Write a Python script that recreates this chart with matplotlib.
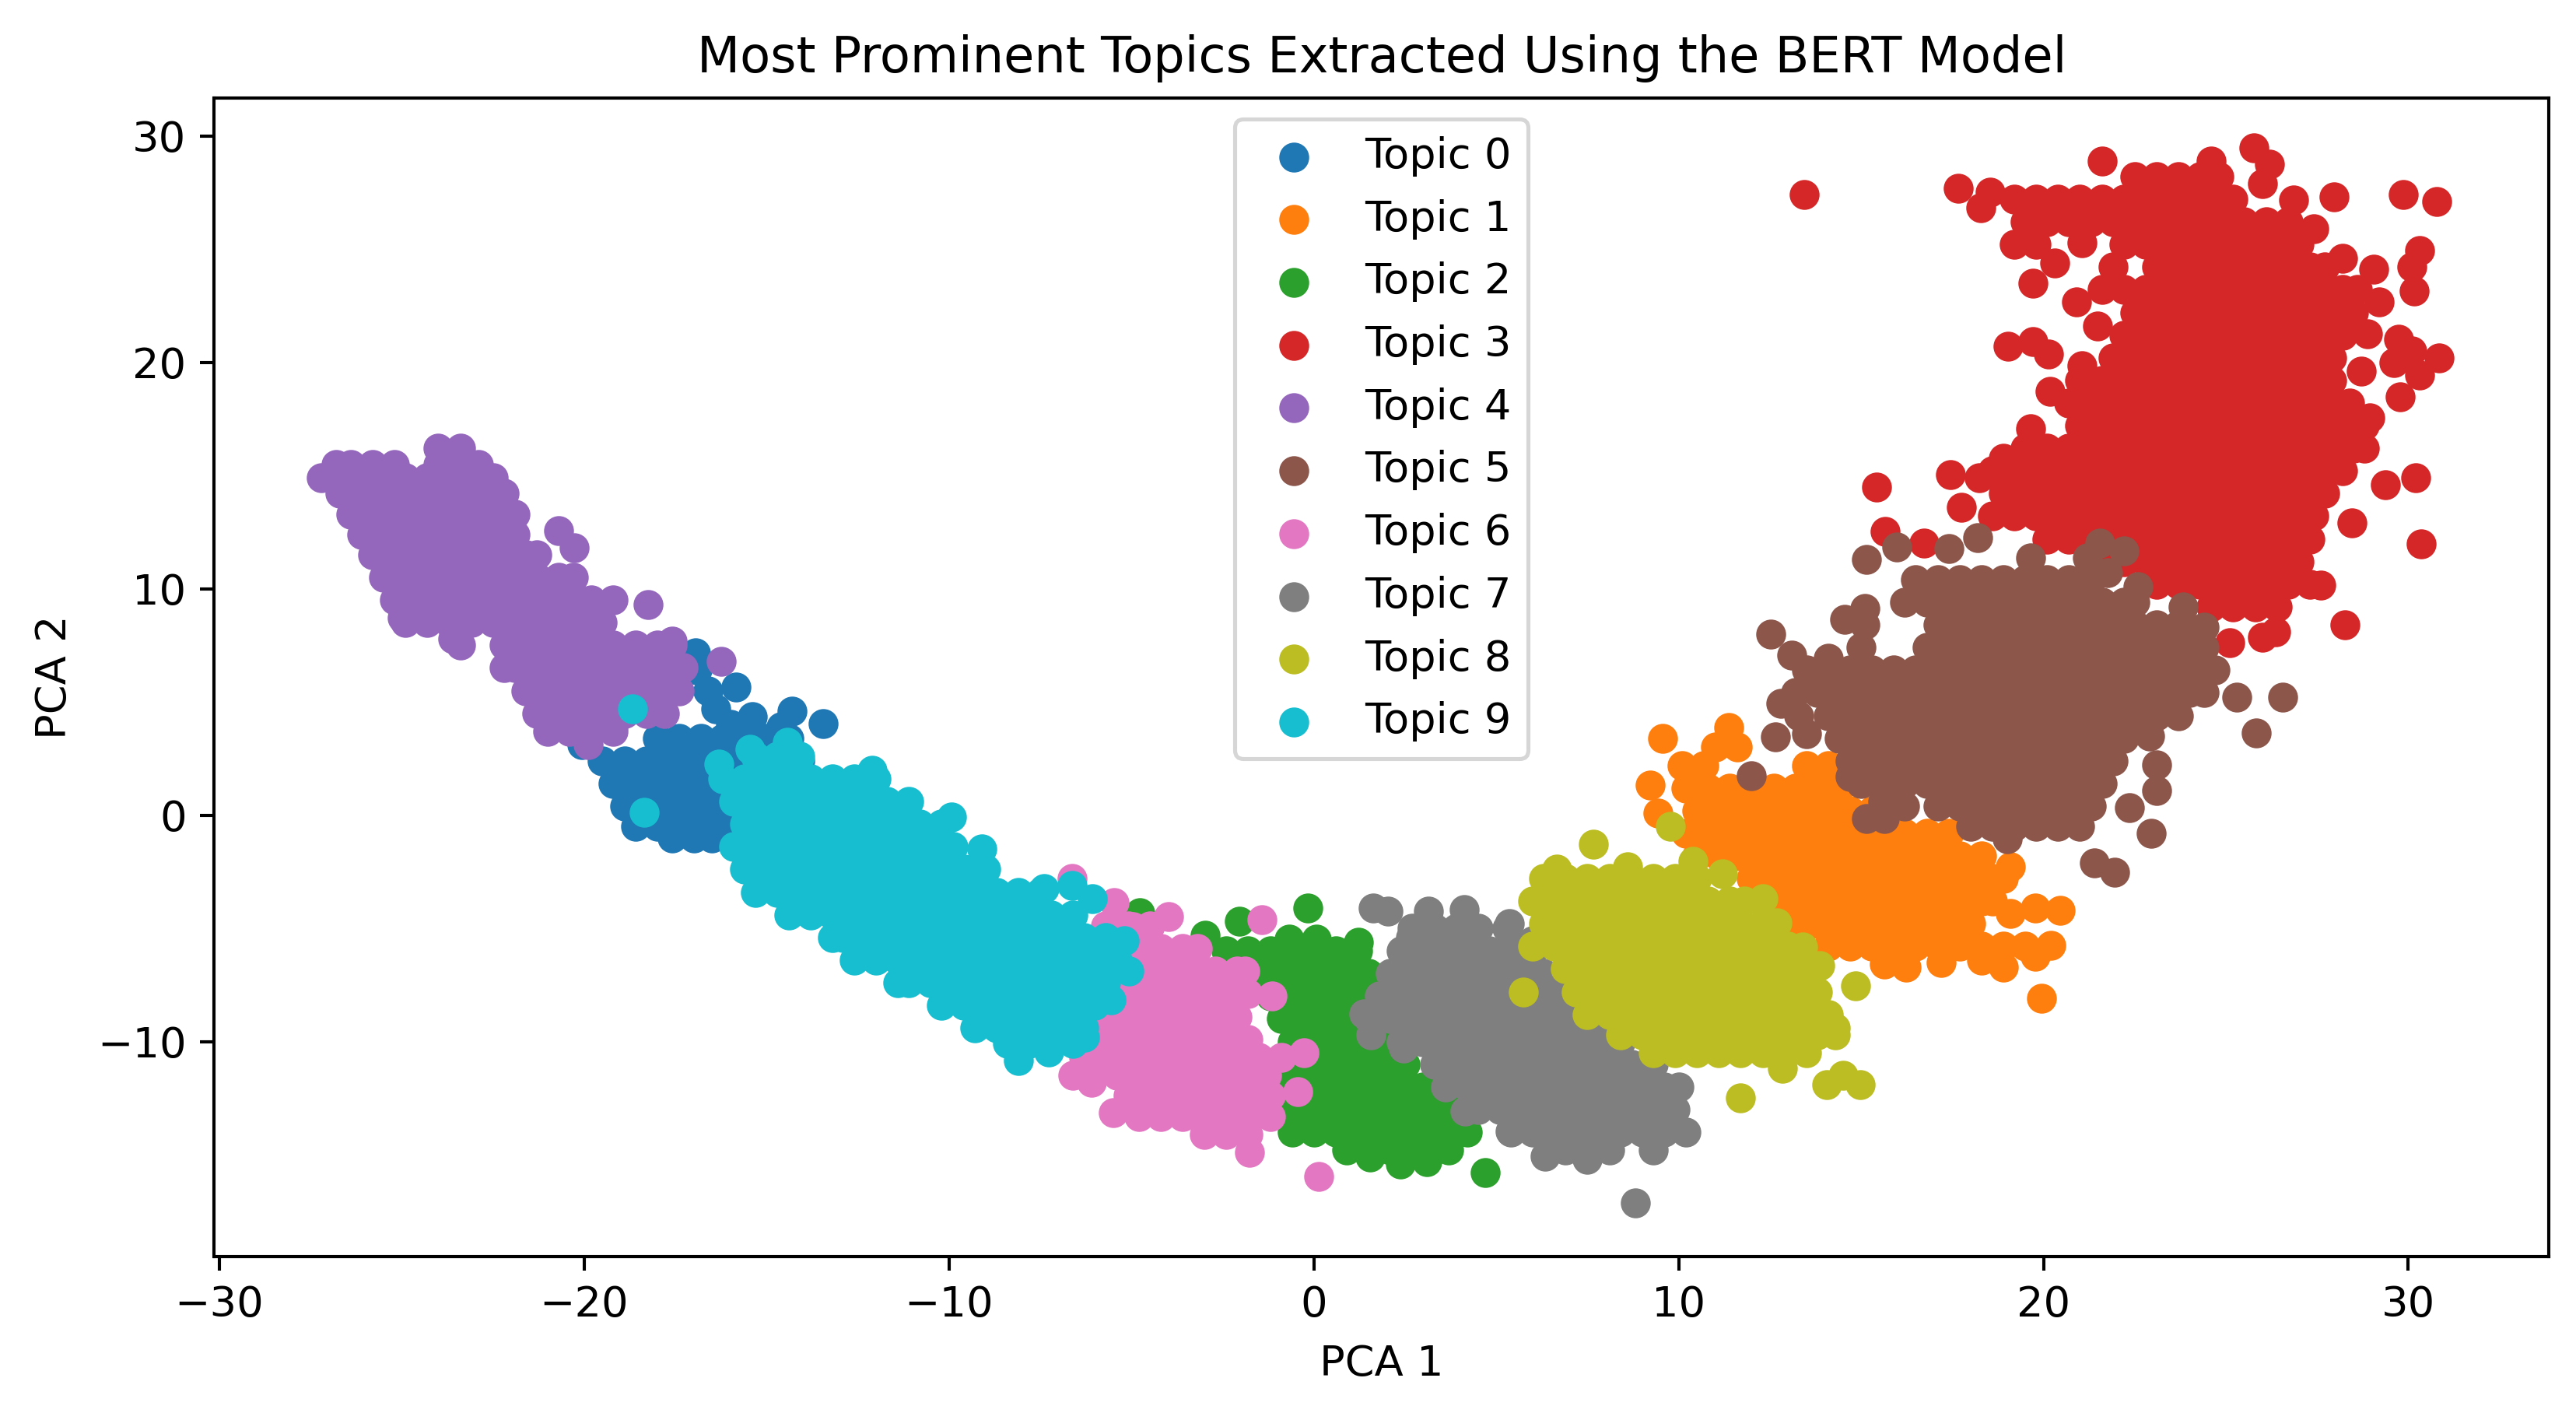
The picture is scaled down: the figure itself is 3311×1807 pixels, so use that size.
import matplotlib
matplotlib.use("Agg")
import matplotlib.pyplot as plt

# every row is y: [x, x, ...]; loose holds the stray dots
topic_0_rows = {
    3.4: [-18.0, -17.4, -16.8, -16.2, -15.6, -15.0, -14.4],
    2.4: [-19.5, -18.9, -18.3, -17.7, -17.1, -16.5, -15.9, -15.3, -14.7, -14.1],
    1.4: [-19.2, -18.6, -18.0, -17.4, -16.8, -16.2, -15.6, -15.0, -14.4],
    0.4: [-18.9, -18.3, -17.7, -17.1, -16.5, -15.9],
    -0.5: [-18.6, -18.0, -17.4, -16.8, -16.2],
    -1.0: [-17.6, -17.0, -16.5],
}
topic_0_loose = [(-16.95, 7.18), (-16.9, 6.4), (-16.6, 5.5), (-16.4, 4.7), (-16.0, 4.0), (-15.85, 5.65),
                 (-15.4, 4.35), (-14.3, 4.58), (-14.6, 3.9), (-13.45, 4.04), (-20.07, 3.1)]

topic_1_rows = {
    3.0: [11.0, 11.6],
    2.2: [10.1, 10.7, 13.5, 14.1],
    1.2: [10.2, 10.8, 11.4, 12.0, 12.6, 13.2, 13.8, 14.4],
    0.2: [10.5, 11.1, 11.7, 12.3, 12.9, 13.5, 14.1, 14.7, 15.3, 15.9],
    -0.8: [10.2, 10.8, 11.4, 12.0, 12.6, 13.2, 13.8, 14.4, 15.0, 15.6, 16.2, 16.8, 17.4],
    -1.8: [10.5, 11.1, 11.7, 12.3, 12.9, 13.5, 14.1, 14.7, 15.3, 15.9, 16.5, 17.1, 17.7, 18.3],
    -2.8: [12.0, 12.6, 13.2, 13.8, 14.4, 15.0, 15.6, 16.2, 16.8, 17.4, 18.0, 18.6, 18.9],
    -3.8: [12.9, 13.5, 14.1, 14.7, 15.3, 15.9, 16.5, 17.1, 17.7, 18.3, 18.6],
    -4.8: [13.2, 13.8, 14.4, 15.0, 15.6, 16.2, 16.8, 17.4, 18.0],
    -5.8: [14.1, 14.7, 15.3, 15.9, 16.5, 17.1, 17.7, 18.3, 18.9, 19.5],
}
topic_1_loose = [(9.55, 3.38), (11.37, 3.87), (9.21, 1.32), (9.44, 0.09), (19.94, -8.1), (20.45, -4.2),
                 (19.78, -4.1), (19.1, -4.35), (20.2, -5.75), (19.78, -6.24), (18.9, -6.73), (16.24, -6.73),
                 (15.63, -6.57), (17.2, -6.5), (18.3, -6.4), (19.1, -2.29)]

topic_2_rows = {
    -6.0: [-2.4, -1.8, -1.2, -0.6, 0.0, 0.6, 1.2],
    -7.0: [-1.5, -0.9, -0.3, 0.3, 0.9, 1.5],
    -8.0: [-1.2, -0.6, 0.0, 0.6, 1.2],
    -9.0: [-0.9, -0.3, 0.3, 0.9, 1.5],
    -10.0: [-0.6, 0.0, 0.6, 1.2, 1.8],
    -11.0: [-0.9, -0.3, 0.3, 0.9, 1.5, 2.1, 2.5],
    -12.0: [-1.2, -0.6, 0.0, 0.6, 1.2, 1.8, 2.4, 3.0, 3.4],
    -13.0: [-0.9, -0.3, 0.3, 0.9, 1.5, 2.1, 2.7, 3.3, 3.9, 4.4],
    -14.0: [-0.6, 0.0, 0.6, 1.2, 1.8, 2.4, 3.0, 3.6, 4.2],
    -14.8: [0.9, 1.5, 2.1, 2.7, 3.3, 3.7],
}
topic_2_loose = [(-4.78, -4.3), (-2.99, -5.3), (-2.04, -4.7), (-0.17, -4.12), (-0.68, -5.47), (0.07, -5.47),
                 (1.23, -5.62), (2.38, -15.4), (1.55, -15.1), (3.1, -15.3), (4.69, -15.8)]

topic_3_rows = {
    28.2: [22.5, 23.1, 23.7, 24.3, 24.8],
    27.2: [19.2, 19.8, 20.4, 21.0, 21.6, 22.2, 22.8, 23.4, 24.0, 24.6, 25.2],
    26.2: [19.5, 20.1, 20.7, 21.3, 21.9, 22.5, 23.1, 23.7, 24.3, 24.9, 25.5, 26.1, 26.7],
    25.2: [19.2, 19.8, 22.2, 22.8, 23.4, 24.0, 24.6, 25.2, 25.8, 26.4, 27.0],
    24.2: [21.9, 23.1, 23.7, 24.3, 24.9, 25.5, 26.1, 26.7, 27.3, 27.7],
    23.2: [21.6, 22.2, 22.8, 23.4, 24.0, 24.6, 25.2, 25.8, 26.4, 27.0, 27.6, 28.2, 28.6],
    22.2: [22.5, 23.1, 23.7, 24.3, 24.9, 25.5, 26.1, 26.7, 27.3, 27.9, 28.5],
    21.2: [22.2, 22.8, 23.4, 24.0, 24.6, 25.2, 25.8, 26.4, 27.0, 27.6, 28.2],
    20.2: [21.9, 22.5, 23.1, 23.7, 24.3, 24.9, 25.5, 26.1, 26.7, 27.3, 27.9],
    19.2: [21.0, 21.6, 22.2, 22.8, 23.4, 24.0, 24.6, 25.2, 25.8, 26.4, 27.0, 27.6, 27.9],
    18.2: [20.7, 21.3, 21.9, 22.5, 23.1, 23.7, 24.3, 24.9, 25.5, 26.1, 26.7, 27.3, 27.9, 28.4],
    17.2: [21.0, 21.6, 22.2, 22.8, 23.4, 24.0, 24.6, 25.2, 25.8, 26.4, 27.0, 27.6, 28.2, 28.8],
    16.2: [19.5, 20.1, 20.7, 21.3, 21.9, 22.5, 23.1, 23.7, 24.3, 24.9, 25.5, 26.1, 26.7, 27.3, 27.9, 28.5, 28.8],
    15.2: [18.6, 19.2, 19.8, 20.4, 21.0, 21.6, 22.2, 22.8, 23.4, 24.0, 24.6, 25.2, 25.8, 26.4, 27.0, 27.6, 28.2],
    14.2: [18.9, 19.5, 20.1, 20.7, 21.3, 21.9, 22.5, 23.1, 23.7, 24.3, 24.9, 25.5, 26.1, 26.7, 27.3, 27.7],
    13.2: [18.6, 19.2, 19.8, 20.4, 21.0, 21.6, 22.2, 22.8, 23.4, 24.0, 24.6, 25.2, 25.8, 26.4, 27.0, 27.4],
    12.2: [20.1, 20.7, 21.3, 21.9, 22.5, 23.1, 23.7, 24.3, 24.9, 25.5, 26.1, 26.7, 27.3],
    11.2: [21.6, 22.2, 22.8, 23.4, 24.0, 24.6, 25.2, 25.8, 26.4, 27.0],
    10.2: [23.1, 23.7, 24.3, 24.9, 25.5, 26.1, 26.7, 27.3],
    9.2: [24.6, 25.2, 25.8, 26.4],
}
topic_3_loose = [(13.43, 27.42), (17.66, 27.67), (18.54, 27.5), (18.29, 26.84), (21.6, 28.9), (25.76, 29.47),
                 (26.19, 28.74), (24.6, 28.9), (26.0, 27.9), (26.86, 27.17), (27.96, 27.3), (29.86, 27.42),
                 (30.78, 27.1), (27.4, 25.9), (21.05, 25.28), (20.3, 24.4), (19.7, 23.5), (20.9, 22.65),
                 (21.47, 21.6), (19.03, 20.7), (19.7, 20.9), (20.13, 20.35), (21.05, 19.86), (20.19, 18.7),
                 (19.64, 17.06), (18.9, 15.75), (17.46, 15.04), (18.23, 14.9), (17.74, 13.6), (15.42, 14.5),
                 (15.66, 12.54), (16.73, 12.0), (28.2, 24.6), (29.06, 24.1), (30.3, 24.95), (30.1, 24.2),
                 (30.17, 23.15), (29.2, 22.65), (28.88, 21.25), (29.74, 21.0), (30.1, 20.5), (30.84, 20.2),
                 (29.6, 20.0), (30.3, 19.45), (29.77, 18.46), (28.7, 19.6), (28.94, 17.55), (29.37, 14.6),
                 (30.2, 14.9), (28.45, 12.9), (30.35, 11.97), (28.27, 8.4), (26.37, 8.1), (26.0, 7.86),
                 (25.1, 7.6), (27.6, 10.16)]

topic_4_rows = {
    16.2: [-24.0, -23.4],
    15.5: [-26.8, -26.4, -25.8, -25.2, -24.0, -23.4, -22.9],
    14.9: [-27.2, -26.7, -26.1, -25.5, -24.9, -24.3, -23.7, -23.1, -22.5],
    14.2: [-26.7, -26.2, -25.6, -25.0, -24.4, -23.8, -23.2, -22.6, -22.2],
    13.3: [-26.4, -25.8, -25.2, -24.6, -24.0, -23.4, -22.8, -22.2, -21.9],
    12.4: [-26.1, -25.5, -24.9, -24.3, -23.7, -23.1, -22.5, -21.9],
    11.5: [-25.8, -25.2, -24.6, -24.0, -23.4, -22.8, -22.2, -21.6, -21.3],
    10.5: [-25.5, -24.9, -24.3, -23.7, -23.1, -22.5, -21.9, -21.3, -20.7, -20.3],
    9.5: [-25.2, -24.6, -24.0, -23.4, -22.8, -22.2, -21.6, -21.0, -20.4, -19.8, -19.2],
    8.5: [-24.9, -24.3, -23.7, -23.1, -22.5, -21.9, -21.3, -20.7, -20.1, -19.5],
    7.5: [-23.4, -22.2, -21.6, -21.0, -20.4, -19.8, -19.2, -18.6, -18.0, -17.6],
    6.5: [-22.2, -21.9, -21.3, -20.7, -20.1, -19.5, -18.9, -18.3, -17.7, -17.3],
    5.5: [-21.6, -21.0, -20.4, -19.8, -19.2, -18.6, -18.0, -17.4],
    4.5: [-21.3, -20.7, -20.1, -19.5, -18.9, -18.3, -17.8],
    3.7: [-21.0, -20.4, -19.8, -19.2],
}
topic_4_loose = [(-20.7, 12.55), (-20.28, 11.8), (-18.25, 9.3), (-25.0, 8.7), (-23.6, 7.8), (-18.4, 7.3),
                 (-17.6, 7.7), (-16.25, 6.8), (-19.9, 3.1), (-19.2, 3.9)]

topic_5_rows = {
    10.4: [16.5, 17.1, 17.7, 18.3, 18.9, 19.5, 20.1, 20.7, 21.3],
    9.4: [16.2, 16.8, 17.4, 18.0, 18.6, 19.2, 19.8, 20.4, 21.0, 21.6, 22.2, 22.5],
    8.4: [15.1, 17.1, 17.7, 18.3, 18.9, 19.5, 20.1, 20.7, 21.3, 21.9, 22.5, 23.1, 23.7],
    7.4: [15.0, 16.8, 17.4, 18.0, 18.6, 19.2, 19.8, 20.4, 21.0, 21.6, 22.2, 22.8, 23.4, 24.0, 24.4],
    6.4: [13.5, 14.1, 14.7, 15.3, 15.9, 16.5, 17.1, 17.7, 18.3, 18.9, 19.5, 20.1, 20.7, 21.3, 21.9, 22.5, 23.1, 23.7, 24.3, 24.7],
    5.4: [13.2, 13.8, 14.4, 15.0, 15.6, 16.2, 16.8, 17.4, 18.0, 18.6, 19.2, 19.8, 20.4, 21.0, 21.6, 22.2, 22.8, 23.4, 24.0, 24.4],
    4.4: [14.1, 14.7, 15.3, 15.9, 16.5, 17.1, 17.7, 18.3, 18.9, 19.5, 20.1, 20.7, 21.3, 21.9, 22.5, 23.1, 23.7],
    3.4: [14.4, 15.0, 15.6, 16.2, 16.8, 17.4, 18.0, 18.6, 19.2, 19.8, 20.4, 21.0, 21.6, 22.2],
    2.4: [14.7, 15.3, 15.9, 16.5, 17.1, 17.7, 18.3, 18.9, 19.5, 20.1, 20.7, 21.3, 21.9],
    1.4: [15.0, 15.6, 16.2, 16.8, 17.4, 18.0, 18.6, 19.2, 19.8, 20.4, 21.0, 21.6],
    0.4: [17.1, 17.7, 18.3, 18.9, 19.5, 20.1, 20.7, 21.3],
    -0.5: [18.0, 18.6, 19.2, 19.8, 20.4, 21.0],
}
topic_5_loose = [(18.2, 12.26), (17.4, 11.76), (15.97, 11.84), (15.15, 11.3), (19.64, 11.35), (21.54, 12.0),
                 (22.2, 11.68), (21.2, 11.35), (21.75, 10.7), (22.6, 10.1), (23.83, 9.2), (24.4, 8.3),
                 (25.3, 5.2), (26.55, 5.2), (25.83, 3.63), (12.53, 7.98), (13.1, 7.08), (14.1, 6.91),
                 (15.1, 9.13), (14.54, 8.64), (12.8, 4.94), (12.66, 3.46), (12.0, 1.73), (15.63, -0.16),
                 (15.15, -0.16), (23.1, 2.23), (23.1, 1.08), (22.36, 0.34), (22.95, -0.8), (21.4, -2.1),
                 (21.95, -2.54), (19.0, -1.06), (22.9, 3.5), (13.3, 4.4), (13.5, 3.6), (14.7, 1.7),
                 (16.2, 0.4), (15.6, 0.6)]

topic_6_rows = {
    -4.9: [-5.7, -5.1, -4.5],
    -5.9: [-4.8, -4.2, -3.6, -3.2],
    -6.9: [-5.1, -4.5, -3.9, -3.3, -2.7, -2.1, -1.9],
    -7.9: [-5.4, -4.8, -4.2, -3.6, -3.0, -2.4, -1.8],
    -8.9: [-5.7, -5.1, -4.5, -3.9, -3.3, -2.7, -2.1],
    -9.9: [-6.0, -5.4, -4.8, -4.2, -3.6, -3.0, -2.4, -1.8],
    -10.7: [-6.3, -5.7, -5.1, -4.5, -3.9, -3.3, -2.7, -2.1, -1.5, -0.9],
    -11.5: [-6.6, -6.0, -5.4, -4.8, -4.2, -3.6, -3.0, -2.4, -1.8, -1.3],
    -12.4: [-5.1, -4.5, -3.9, -3.3, -2.7, -2.1, -1.5, -1.2],
    -13.3: [-4.8, -4.2, -3.6, -3.0, -2.4, -1.8, -1.2],
    -14.1: [-3.0, -2.4, -1.8],
}
topic_6_loose = [(-6.62, -2.8), (-5.47, -3.86), (-3.98, -4.47), (-1.43, -4.63), (-4.96, -4.93), (-1.15, -8.0),
                 (-0.27, -10.5), (-0.45, -12.2), (-1.77, -14.9), (0.14, -15.95), (-6.1, -11.8), (-5.5, -13.15)]

topic_7_rows = {
    -5.0: [2.7, 3.3, 3.9, 4.5, 5.3],
    -6.0: [2.4, 3.0, 3.6, 4.2, 4.8, 5.4, 6.0],
    -7.0: [2.1, 2.7, 3.3, 3.9, 4.5, 5.1, 5.7, 6.3, 6.9],
    -8.0: [1.8, 2.4, 3.0, 3.6, 4.2, 4.8, 5.4, 6.0, 6.6, 7.2],
    -9.0: [1.5, 2.1, 2.7, 3.3, 3.9, 4.5, 5.1, 5.7, 6.3, 6.9, 7.5, 8.1],
    -10.0: [2.4, 3.0, 3.6, 4.2, 4.8, 5.4, 6.0, 6.6, 7.2, 7.8, 8.4],
    -11.0: [3.3, 3.9, 4.5, 5.1, 5.7, 6.3, 6.9, 7.5, 8.1, 8.7, 9.3],
    -12.0: [3.6, 4.2, 4.8, 5.4, 6.0, 6.6, 7.2, 7.8, 8.4, 9.0, 9.6, 10.0],
    -13.0: [4.5, 5.1, 5.7, 6.3, 6.9, 7.5, 8.1, 8.7, 9.3, 9.9],
    -14.0: [5.4, 6.0, 6.6, 7.2, 7.8, 8.4, 9.0, 9.6, 10.2],
    -14.8: [6.9, 7.5, 8.1, 9.3],
}
topic_7_loose = [(1.63, -4.1), (2.04, -4.24), (3.13, -4.24), (4.12, -4.17), (5.35, -4.78), (2.65, -5.4),
                 (4.42, -5.2), (5.99, -5.55), (1.36, -8.77), (1.57, -9.7), (2.45, -10.3), (4.15, -13.06),
                 (5.37, -13.98), (6.33, -15.06), (7.48, -15.2), (8.81, -17.13)]

topic_8_rows = {
    -2.8: [6.3, 6.9, 7.5, 8.1, 8.7, 9.3, 9.9, 10.5],
    -3.8: [6.0, 6.6, 7.2, 7.8, 8.4, 9.0, 9.6, 10.2, 10.8, 11.4, 11.8],
    -4.8: [6.3, 6.9, 7.5, 8.1, 8.7, 9.3, 9.9, 10.5, 11.1, 11.7, 12.3],
    -5.8: [6.0, 6.6, 7.2, 7.8, 8.4, 9.0, 9.6, 10.2, 10.8, 11.4, 12.0, 12.6, 13.0],
    -6.8: [6.9, 7.5, 8.1, 8.7, 9.3, 9.9, 10.5, 11.1, 11.7, 12.3, 12.9, 13.5],
    -7.8: [7.2, 7.8, 8.4, 9.0, 9.6, 10.2, 10.8, 11.4, 12.0, 12.6, 13.2, 13.8],
    -8.8: [7.5, 8.1, 8.7, 9.3, 9.9, 10.5, 11.1, 11.7, 12.3, 12.9, 13.5, 14.1],
    -9.7: [8.4, 9.0, 9.6, 10.2, 10.8, 11.4, 12.0, 12.6, 13.2, 13.8, 14.3],
    -10.5: [9.3, 9.9, 10.5, 11.1, 11.7, 12.3, 12.9, 13.5],
}
topic_8_loose = [(7.67, -1.3), (6.65, -2.37), (8.6, -2.3), (10.4, -2.05), (11.2, -2.6), (9.78, -0.48),
                 (12.3, -3.7), (12.7, -4.76), (13.4, -5.83), (13.86, -6.65), (14.84, -7.55), (5.75, -7.82),
                 (11.7, -12.5), (14.05, -11.9), (14.97, -11.9), (14.5, -11.5), (12.85, -11.2), (14.3, -9.4)]

topic_9_rows = {
    2.6: [-15.3, -14.7, -14.1],
    1.6: [-16.2, -15.6, -15.0, -14.4, -13.8, -13.2, -12.6, -12.0],
    0.6: [-15.9, -15.3, -14.7, -14.1, -13.5, -12.9, -12.3, -11.7, -11.1],
    -0.4: [-15.6, -15.0, -14.4, -13.8, -13.2, -12.6, -12.0, -11.4, -10.8, -10.2],
    -1.4: [-15.9, -15.3, -14.7, -14.1, -13.5, -12.9, -12.3, -11.7, -11.1, -10.5, -9.9],
    -2.4: [-15.6, -15.0, -14.4, -13.8, -13.2, -12.6, -12.0, -11.4, -10.8, -10.2, -9.6, -9.0],
    -3.4: [-15.3, -14.7, -14.1, -13.5, -12.9, -12.3, -11.7, -11.1, -10.5, -9.9, -9.3, -8.7, -8.1, -7.5],
    -4.4: [-14.4, -13.8, -13.2, -12.6, -12.0, -11.4, -10.8, -10.2, -9.6, -9.0, -8.4, -7.8, -7.2, -6.6],
    -5.4: [-13.2, -12.9, -12.3, -11.7, -11.1, -10.5, -9.9, -9.3, -8.7, -8.1, -7.5, -6.9, -6.3, -5.7],
    -6.4: [-12.6, -12.0, -11.4, -10.8, -10.2, -9.6, -9.0, -8.4, -7.8, -7.2, -6.6, -6.0, -5.4],
    -7.4: [-11.4, -11.1, -10.5, -9.9, -9.3, -8.7, -8.1, -7.5, -6.9, -6.3, -5.7],
    -8.4: [-10.2, -9.6, -9.0, -8.4, -7.8, -7.2, -6.6, -6.0],
    -9.4: [-9.3, -8.7, -8.1, -7.5, -6.9, -6.3],
    -10.1: [-8.4, -7.8, -7.2, -6.6],
}
topic_9_loose = [(-18.67, 4.68), (-18.35, 0.13), (-16.3, 2.27), (-15.45, 2.9), (-14.43, 3.2), (-12.1, 1.97),
                 (-9.93, -0.1), (-9.1, -1.48), (-7.4, -3.25), (-6.62, -3.1), (-6.08, -3.7), (-5.2, -5.55),
                 (-5.07, -6.9), (-5.57, -8.15), (-6.28, -9.8), (-8.09, -10.84), (-7.27, -10.45)]

topic_rows = [topic_0_rows, topic_1_rows, topic_2_rows, topic_3_rows, topic_4_rows,
              topic_5_rows, topic_6_rows, topic_7_rows, topic_8_rows, topic_9_rows]
topic_loose = [topic_0_loose, topic_1_loose, topic_2_loose, topic_3_loose, topic_4_loose,
               topic_5_loose, topic_6_loose, topic_7_loose, topic_8_loose, topic_9_loose]

plt.rcParams["font.size"] = 10.55

fig = plt.figure(figsize=(3312 / 370, 1807 / 370), dpi=370)
ax = fig.add_axes([275.5 / 3312, 1 - 1615 / 1807, (3276 - 275.5) / 3312, (1615 - 126) / 1807])

for i in range(10):
    xs = []
    ys = []
    for y, row in topic_rows[i].items():
        xs += row
        ys += [y] * len(row)
    for x, y in topic_loose[i]:
        xs.append(x)
        ys.append(y)
    ax.scatter(xs, ys, s=42, label=f"Topic {i}")

ax.set_xlim(-30.14, 33.85)
ax.set_ylim(-19.5, 31.67)
ax.set_title("Most Prominent Topics Extracted Using the BERT Model", fontsize=12.45, pad=6.5)
ax.set_xlabel("PCA 1", labelpad=4.6)
ax.set_ylabel("PCA 2", labelpad=5.6)
ax.legend(loc="upper center", labelspacing=0.53, handletextpad=0.68)

fig.savefig("out.png", dpi=370)
